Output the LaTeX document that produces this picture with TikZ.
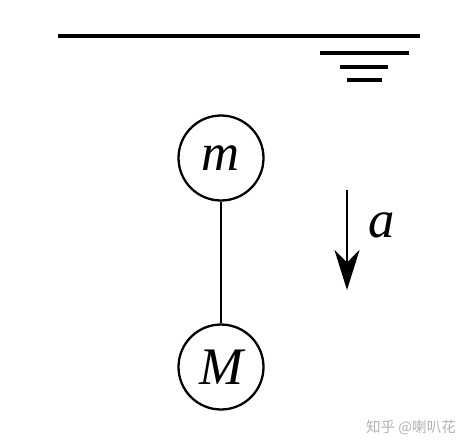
\documentclass[tikz,border=0pt]{standalone}
\usepackage{fontspec}
\setmainfont{Liberation Serif}
\newfontfamily\cjk{Noto Sans CJK SC}
\usetikzlibrary{arrows.meta}

\begin{document}
\begin{tikzpicture}[x=0.02cm,y=-0.02cm]
	\tikzstyle{mass}=[circle,draw,line width=1.3pt,minimum size=1.7cm,inner sep=0pt,font=\fontsize{30}{32}\selectfont\itshape]
	\tikzstyle{level line}=[line width=1.9pt]
	\useasboundingbox (0,0) rectangle (469,447);
	% surface
	\draw[level line] (58,36) -- (420,36);
	\draw[level line] (320,53) -- (409,53);
	\draw[level line] (340,67) -- (388,67);
	\draw[level line] (347,80) -- (382,80);
	% masses
	\node[mass] (m) at (221,158) {m};
	\node[mass] (M) at (221,367) {M};
	\draw[line width=1.3pt] (m) -- (M);
	% acceleration
	\coordinate (atop) at (347,190);
	\coordinate (abot) at (347,290);
	\draw[line width=1.4pt,-{Stealth[length=8mm,width=5mm,inset=2.5mm]}] (atop) -- (abot);
	\node[font=\fontsize{30}{32}\selectfont\itshape] (alabel) at (382,225) {a};
	\node[text=black!30,font=\cjk\fontsize{8.3}{10}\selectfont] (mark) at (411,428) {知乎 @喇叭花};
\end{tikzpicture}
\end{document}
